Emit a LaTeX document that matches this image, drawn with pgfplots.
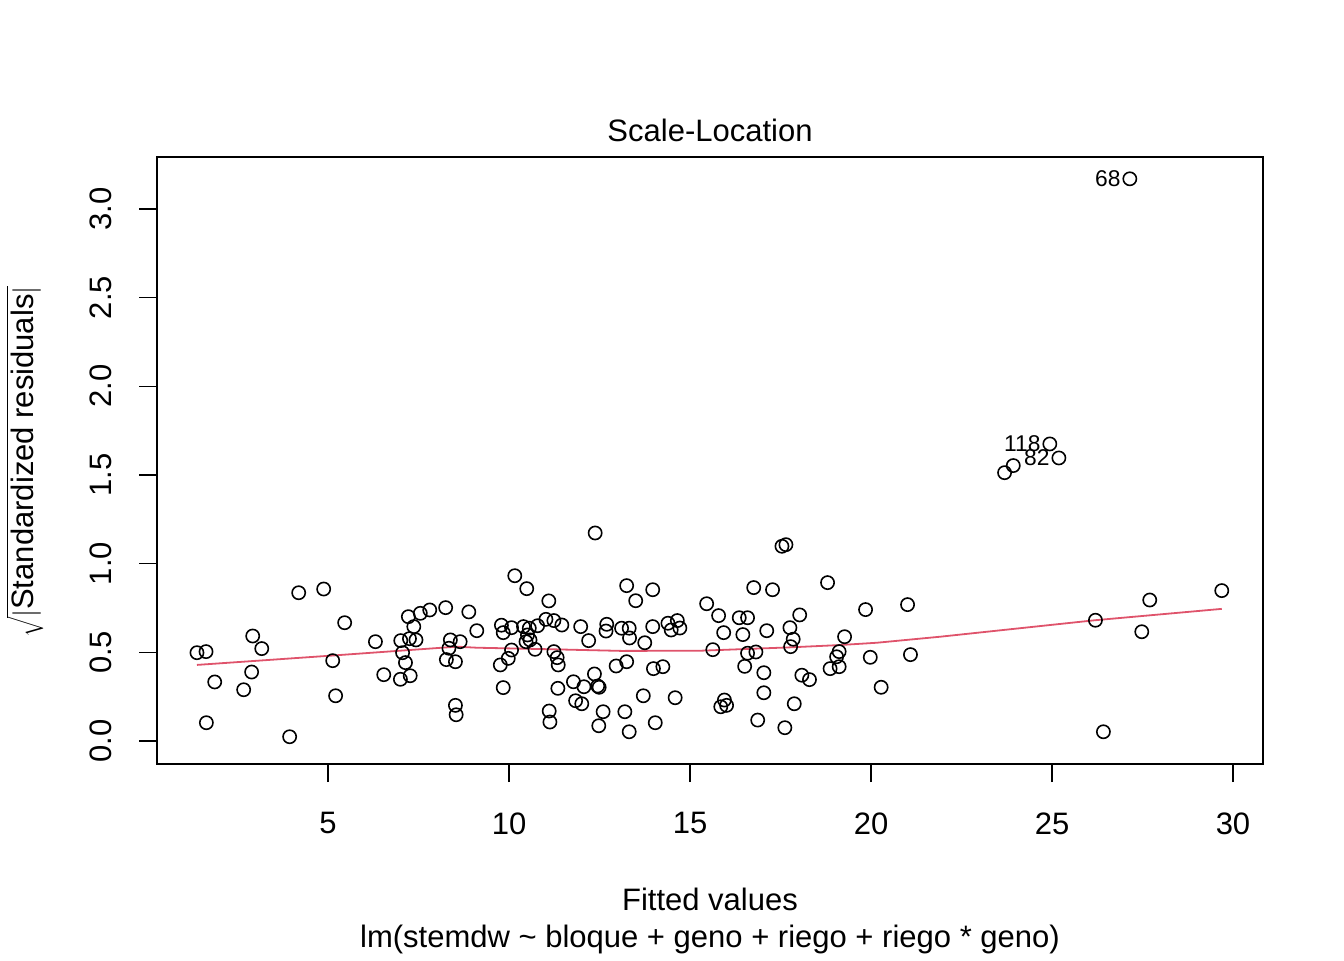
\documentclass[border=0pt]{standalone}
\usepackage{fontspec}
\setmainfont{Liberation Sans}
\usepackage{pgfplots}
\pgfplotsset{compat=1.18}
\definecolor{rred}{HTML}{DF536B}
\pgfplotstableread{
x y
4.19 0.836
4.88 0.857
5.46 0.667
2.92 0.592
3.17 0.521
1.38 0.498
1.63 0.504
5.13 0.453
6.31 0.560
2.89 0.389
1.87 0.333
2.67 0.289
5.21 0.255
6.54 0.374
1.64 0.103
3.94 0.024
7.00 0.348
7.27 0.368
7.14 0.442
7.06 0.498
7.01 0.566
7.25 0.577
7.43 0.570
7.37 0.645
7.22 0.701
7.55 0.720
7.81 0.739
8.25 0.752
8.38 0.570
8.34 0.523
8.27 0.459
8.52 0.447
8.52 0.201
8.54 0.148
10.16 0.932
10.49 0.859
11.10 0.790
8.89 0.728
9.11 0.622
8.65 0.560
9.79 0.653
9.84 0.611
10.07 0.639
10.40 0.645
10.56 0.636
10.79 0.650
10.51 0.598
10.47 0.560
10.58 0.570
10.72 0.517
11.02 0.686
11.24 0.679
11.46 0.654
10.07 0.513
9.98 0.466
9.76 0.429
11.24 0.504
11.33 0.470
11.36 0.429
9.84 0.301
11.35 0.297
11.78 0.334
12.36 0.378
12.07 0.306
12.45 0.310
12.49 0.303
11.84 0.227
12.01 0.210
11.11 0.169
11.13 0.107
12.60 0.165
12.48 0.086
13.20 0.165
13.32 0.052
14.04 0.103
14.59 0.244
13.71 0.255
13.25 0.876
13.97 0.853
13.50 0.791
11.98 0.645
12.20 0.566
12.70 0.658
12.68 0.620
13.11 0.636
13.32 0.636
13.33 0.581
13.75 0.554
13.97 0.645
14.39 0.664
14.65 0.679
14.48 0.626
14.72 0.637
12.96 0.423
13.25 0.447
13.99 0.408
14.25 0.419
12.38 1.173
17.54 1.098
17.65 1.107
16.76 0.865
17.28 0.853
18.80 0.893
15.46 0.774
15.79 0.707
16.36 0.695
16.59 0.695
18.03 0.711
19.85 0.741
21.01 0.769
15.93 0.611
16.46 0.600
17.12 0.622
17.76 0.639
17.85 0.574
17.78 0.532
19.27 0.588
15.63 0.515
16.59 0.495
16.82 0.502
16.51 0.421
17.04 0.385
19.12 0.504
19.05 0.475
18.87 0.408
19.12 0.419
19.98 0.472
21.09 0.487
18.09 0.371
18.30 0.346
17.04 0.272
20.28 0.303
15.95 0.231
15.85 0.193
16.01 0.201
17.88 0.210
16.87 0.118
17.62 0.075
24.94 1.675
25.19 1.596
23.93 1.553
23.69 1.513
29.69 0.848
27.70 0.795
26.20 0.681
27.48 0.616
26.42 0.052
27.15 3.170
}\pts
\pgfplotstableread{
x y
1.38 0.429
5.06 0.481
8.56 0.532
9.11 0.526
11.22 0.517
13.11 0.508
15.28 0.509
17.76 0.528
19.14 0.541
20.16 0.554
21.91 0.588
26.19 0.681
29.69 0.745
}\smooth
\begin{document}
\begin{tikzpicture}[x=0.5pt,y=0.5pt]
\path[use as bounding box] (0,0) rectangle (1344,960);
\begin{axis}[
  at={(78.5pt,98pt)}, anchor=south west,
  width=553pt, height=303.5pt, scale only axis,
  xmin=0.276, xmax=30.829, ymin=-0.1297, ymax=3.293,
  axis line style={line width=0.75pt},
  xtick={5,10,15,20,25,30}, ytick={0,0.5,1,1.5,2,2.5,3},
  minor tick num=0,
  tick align=outside, major tick length=9pt,
  tick style={line width=0.75pt, black},
  xtick pos=lower, ytick pos=left,
  /pgf/number format/assume math mode=true,
  ticklabel style={font=\fontsize{15.5}{18}\selectfont},
  yticklabel style={rotate=90, anchor=south, inner sep=0pt, /pgf/number format/.cd, fixed, fixed zerofill, precision=1},
  xticklabel style={anchor=north, inner sep=0pt},
  xticklabel shift=15pt, yticklabel shift=13.5pt,
  clip=false,
]
\addplot[only marks, mark=o, mark size=3.3pt, mark options={line width=0.8pt, black}] table[x=x,y=y] {\pts};
\addplot[rred, line width=0.9pt, no marks] table[x=x,y=y] {\smooth};
\node[anchor=east, inner sep=0pt, font=\fontsize{11.4}{13}\selectfont] at (axis cs:27.15,3.17) [xshift=-4.5pt] {68};
\node[anchor=east, inner sep=0pt, font=\fontsize{11.4}{13}\selectfont] at (axis cs:24.94,1.675) [xshift=-4.5pt] {118};
\node[anchor=east, inner sep=0pt, font=\fontsize{11.4}{13}\selectfont] at (axis cs:25.19,1.596) [xshift=-4.5pt] {82};
\end{axis}
\node[anchor=base, inner sep=0pt, font=\fontsize{15.5}{18}\selectfont] at (710,818) {Scale-Location};
\node[anchor=base, inner sep=0pt, font=\fontsize{15.5}{18}\selectfont] at (710,50) {Fitted values};
\node[anchor=base, inner sep=0pt, font=\fontsize{15.5}{18}\selectfont] at (710,13) {lm(stemdw \textasciitilde{} bloque + geno + riego + riego * geno)};
\node[rotate=90, inner sep=0pt, font=\fontsize{15.5}{18}\selectfont] at (25,498) {$\sqrt{|\mbox{Standardized residuals}|}$};
\end{tikzpicture}
\end{document}
